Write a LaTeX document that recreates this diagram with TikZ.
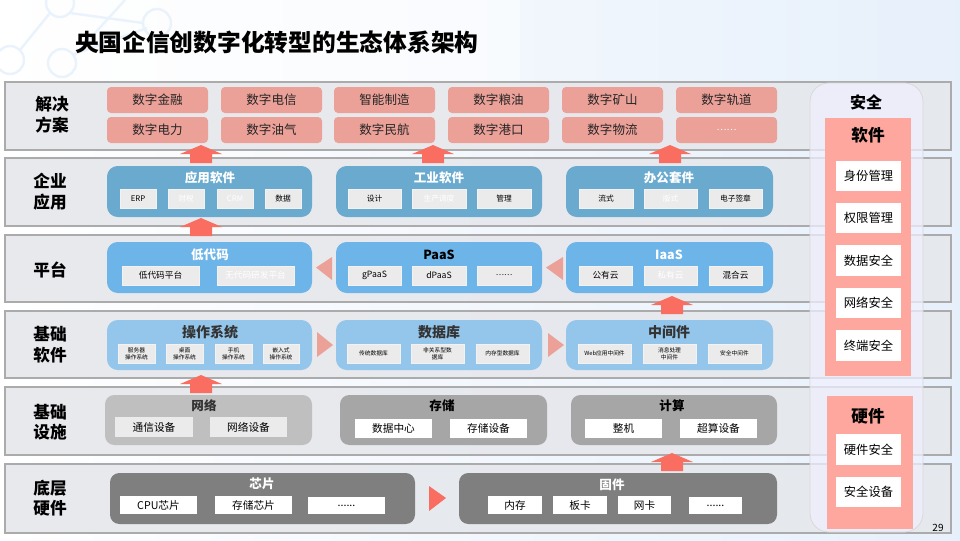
\documentclass[tikz,border=0pt]{standalone}
\usepackage{fontspec}
\setmainfont{Noto Sans CJK SC}
\usetikzlibrary{shapes.geometric}
\definecolor{rowfill}{HTML}{E5E7EB}
\definecolor{rowline}{HTML}{ABABAB}
\definecolor{solpink}{HTML}{EBA098}
\definecolor{appblue}{HTML}{6AAACF}
\definecolor{platblue}{HTML}{6DB4E8}
\definecolor{swblue}{HTML}{94C6EB}
\definecolor{itemgray}{HTML}{EBEBEB}
\definecolor{netgray}{HTML}{BFBFBF}
\definecolor{midgray}{HTML}{A6A6A6}
\definecolor{darkgray}{HTML}{7F7F7F}
\definecolor{arrred}{HTML}{F96E60}
\definecolor{tripink}{HTML}{EBA098}
\definecolor{secpink}{HTML}{FDA79F}
\definecolor{deco}{HTML}{E2EDFA}
\definecolor{decoline}{HTML}{EAF2FC}
\newcommand\bx[7]{\node[#6, minimum width={(#4-#2)*0.75pt}, minimum height={(#5-#3)*0.75pt}] (#1) at ({(#2+#4)/2},{(#3+#5)/2}) {#7};}
\newcommand\uparr[2]{\fill[arrred] (#1-11,#2+18) -- (#1-11,#2+9) -- (#1-21,#2+9) -- (#1,#2) -- (#1+21,#2+9) -- (#1+11,#2+9) -- (#1+11,#2+18) -- cycle;}
\tikzset{
  every node/.style={inner sep=0pt, outer sep=0pt, align=center},
  rowbox/.style={draw=rowline, fill=rowfill, fill opacity=0.88, line width=0.8pt},
  rowlab/.style={font=\fontsize{12.5}{15.5}\selectfont\bfseries},
  sol/.style={fill=solpink, rounded corners=3pt, font=\fontsize{9.4}{11}\selectfont, text=black!85},
  grpapp/.style={fill=appblue, rounded corners=8pt},
  grpplat/.style={fill=platblue, rounded corners=8pt},
  grpsw/.style={fill=swblue, rounded corners=8pt},
  grpnet/.style={fill=netgray, rounded corners=7pt},
  grpmid/.style={fill=midgray, rounded corners=7pt},
  grpdark/.style={fill=darkgray, rounded corners=7pt},
  gtitle/.style={font=\fontsize{9.4}{11}\selectfont\bfseries, text=white},
  gtitled/.style={font=\fontsize{10.5}{12}\selectfont\bfseries, text=black!80},
  item/.style={fill=itemgray, draw=white!90!gray, line width=0.3pt, font=\fontsize{5.8}{6.5}\selectfont, text=black},
  itemw/.style={item, text=white},
  itemtiny/.style={item, font=\fontsize{4.3}{5}\selectfont},
  itemhw/.style={fill=white, font=\fontsize{8}{9}\selectfont, text=black},
  secitem/.style={fill=white, font=\fontsize{9.2}{11}\selectfont, text=black},
}
\begin{document}
\begin{tikzpicture}[x=0.75pt,y=-0.75pt]
\useasboundingbox (0,0) rectangle (960,540);
% background
\shade[left color=white, right color=deco!85] (0,0) rectangle (960,540);
\fill[white, opacity=0.5] (0,0) rectangle (520,150);
% decorative network
\begin{scope}[draw=decoline, line width=1.8pt]
  \draw (60,3) circle (14);
  \draw (157,23) circle (14);
  \draw (10,60) circle (14);
  \draw (62,63) circle (14);
  \draw (50,13) -- (20,50);
  \draw (70,13) -- (143,23);
  \draw (72,55) -- (147,28);
  \draw (125,0) -- (75,55);
  \draw (890,355) circle (18);
  \draw (930,400) circle (14);
  \draw (903,368) -- (920,390);
\end{scope}
% title
\node[anchor=west, font=\fontsize{17.8}{20}\selectfont\bfseries] (title) at (75,42) {央国企信创数字化转型的生态体系架构};
% rows
\bx{r1}{5}{82}{951}{150}{rowbox}{}
\bx{r2}{5}{158}{951}{226}{rowbox}{}
\bx{r3}{5}{235}{951}{302}{rowbox}{}
\bx{r4}{5}{311}{951}{378}{rowbox}{}
\bx{r5}{5}{387}{951}{455}{rowbox}{}
\bx{r6}{5}{464}{951}{533}{rowbox}{}
\node[rowlab] (l1) at (52,115) {解决\\方案};
\node[rowlab] (l2) at (50,192) {企业\\应用};
\node[rowlab] (l3) at (50,270) {平台};
\node[rowlab] (l4) at (50,345) {基础\\软件};
\node[rowlab] (l5) at (50,422) {基础\\设施};
\node[rowlab] (l6) at (50,498) {底层\\硬件};
% security panel
\fill[white!94!blue, fill opacity=0.75, draw=black!15, line width=0.6pt, rounded corners=14pt] (810,83) rectangle (923,532);
\node[font=\fontsize{12}{14}\selectfont\bfseries] (sec) at (866,102) {安全};
\bx{secsw}{825}{118}{911}{376}{fill=secpink}{}
\node[font=\fontsize{12.5}{14}\selectfont\bfseries] (secswt) at (868,135) {软件};
\bx{s1}{836}{161}{901}{191}{secitem}{身份管理}
\bx{s2}{836}{203}{901}{233}{secitem}{权限管理}
\bx{s3}{836}{245}{901}{276}{secitem}{数据安全}
\bx{s4}{836}{288}{901}{318}{secitem}{网络安全}
\bx{s5}{836}{330}{901}{361}{secitem}{终端安全}
\bx{sechw}{827}{396}{913}{529}{fill=secpink}{}
\node[font=\fontsize{12.5}{14}\selectfont\bfseries] (sechwt) at (868,416) {硬件};
\bx{s6}{836}{434}{901}{465}{secitem}{硬件安全}
\bx{s7}{836}{477}{901}{507}{secitem}{安全设备}
\node[font=\fontsize{7.5}{9}\selectfont] (pg) at (938,528) {29};
% row 1 solutions
\bx{a1}{107}{87}{208}{113}{sol}{数字金融}
\bx{a2}{221}{87}{322}{113}{sol}{数字电信}
\bx{a3}{334}{87}{435}{113}{sol}{智能制造}
\bx{a4}{448}{87}{549}{113}{sol}{数字粮油}
\bx{a5}{562}{87}{663}{113}{sol}{数字矿山}
\bx{a6}{676}{87}{777}{113}{sol}{数字轨道}
\bx{b1}{107}{117}{208}{143}{sol}{数字电力}
\bx{b2}{221}{117}{322}{143}{sol}{数字油气}
\bx{b3}{334}{117}{435}{143}{sol}{数字民航}
\bx{b4}{448}{117}{549}{143}{sol}{数字港口}
\bx{b5}{562}{117}{663}{143}{sol}{数字物流}
\bx{b6}{676}{117}{777}{143}{sol, text=white, font=\fontsize{7}{8}\selectfont}{……}
% row 2 enterprise apps
\bx{g21}{107}{166}{312}{217}{grpapp}{}
\bx{g22}{336}{166}{542}{217}{grpapp}{}
\bx{g23}{566}{166}{773}{217}{grpapp}{}
\node[gtitle] (t21) at (210,178) {应用软件};
\node[gtitle] (t22) at (439,178) {工业软件};
\node[gtitle] (t23) at (669,178) {办公套件};
\bx{i211}{120}{189}{156}{208}{item}{ERP}
\bx{i212}{168}{189}{204}{208}{itemw}{财税}
\bx{i213}{217}{189}{253}{208}{itemw}{CRM}
\bx{i214}{265}{189}{301}{208}{item}{数据}
\bx{i221}{348}{189}{401}{208}{item}{设计}
\bx{i222}{412}{189}{466}{208}{itemw}{生产调度}
\bx{i223}{477}{189}{531}{208}{item}{管理}
\bx{i231}{579}{189}{633}{208}{item}{流式}
\bx{i232}{644}{189}{697}{208}{itemw}{版式}
\bx{i233}{709}{189}{762}{208}{item}{电子签章}
% row 3 platform
\bx{g31}{107}{242}{312}{293}{grpplat}{}
\bx{g32}{336}{242}{542}{293}{grpplat}{}
\bx{g33}{566}{242}{773}{293}{grpplat}{}
\node[gtitle] (t31) at (210,255) {低代码};
\node[gtitle, text=black] (t32) at (439,255) {PaaS};
\node[gtitle] (t33) at (669,255) {IaaS};
\bx{i311}{122}{266}{199}{285}{item, font=\fontsize{6.5}{7}\selectfont}{低代码平台}
\bx{i312}{217}{266}{294}{285}{itemw, font=\fontsize{6.5}{7}\selectfont}{无代码研发平台}
\bx{i321}{348}{266}{401}{285}{item, font=\fontsize{6.5}{7}\selectfont}{gPaaS}
\bx{i322}{412}{266}{466}{285}{item, font=\fontsize{6.5}{7}\selectfont}{dPaaS}
\bx{i323}{477}{266}{531}{285}{item}{……}
\bx{i331}{579}{266}{632}{285}{item, font=\fontsize{6.5}{7}\selectfont}{公有云}
\bx{i332}{644}{266}{697}{285}{itemw, font=\fontsize{6.5}{7}\selectfont}{私有云}
\bx{i333}{709}{266}{762}{285}{item, font=\fontsize{6.5}{7}\selectfont}{混合云}
\fill[tripink] (g31.east) ++(4,0) -- (332,257) -- (332,280) -- cycle;
\fill[tripink] (g32.east) ++(4,0) -- (563,257) -- (563,280) -- cycle;
% row 4 base software
\bx{g41}{107}{320}{312}{370}{grpsw}{}
\bx{g42}{336}{320}{542}{370}{grpsw}{}
\bx{g43}{566}{320}{773}{370}{grpsw}{}
\node[gtitled] (t41) at (210,332) {操作系统};
\node[gtitled] (t42) at (439,332) {数据库};
\node[gtitled] (t43) at (669,332) {中间件};
\bx{i411}{118}{344}{155}{363}{itemtiny}{服务器\\操作系统}
\bx{i412}{166}{344}{203}{363}{itemtiny}{桌面\\操作系统}
\bx{i413}{215}{344}{252}{363}{itemtiny}{手机\\操作系统}
\bx{i414}{263}{344}{299}{363}{itemtiny}{嵌入式\\操作系统}
\bx{i421}{347}{344}{400}{363}{itemtiny}{传统数据库}
\bx{i422}{411}{344}{464}{363}{itemtiny}{非关系型数\\据库}
\bx{i423}{476}{344}{529}{363}{itemtiny}{内存型数据库}
\bx{i431}{578}{344}{631}{363}{itemtiny}{Web应用中间件}
\bx{i432}{643}{344}{696}{363}{itemtiny}{消息处理\\中间件}
\bx{i433}{708}{344}{761}{363}{itemtiny}{安全中间件}
\fill[tripink] (317,332) -- (333,345) -- (317,357) -- cycle;
\fill[tripink] (548,333) -- (564,345) -- (548,357) -- cycle;
% row 5 infrastructure
\bx{g51}{105}{395}{312}{445}{grpnet}{}
\bx{g52}{340}{395}{547}{445}{grpmid}{}
\bx{g53}{571}{395}{777}{445}{grpmid}{}
\node[gtitled, font=\fontsize{9.4}{11}\selectfont\bfseries] (t51) at (204,406) {网络};
\node[gtitled, font=\fontsize{9.4}{11}\selectfont\bfseries, text=black] (t52) at (442,406) {存储};
\node[gtitled, font=\fontsize{9.4}{11}\selectfont\bfseries, text=black] (t53) at (672,406) {计算};
\bx{i511}{115}{417}{193}{437}{itemhw, fill=itemgray}{通信设备}
\bx{i512}{210}{417}{287}{437}{itemhw, fill=itemgray}{网络设备}
\bx{i521}{355}{419}{432}{438}{itemhw}{数据中心}
\bx{i522}{450}{419}{527}{438}{itemhw}{存储设备}
\bx{i531}{585}{419}{662}{438}{itemhw}{整机}
\bx{i532}{680}{419}{757}{438}{itemhw}{超算设备}
% row 6 hardware
\bx{g61}{110}{473}{415}{524}{grpdark}{}
\bx{g62}{459}{473}{777}{524}{grpdark}{}
\node[gtitle] (t61) at (262,484) {芯片};
\node[gtitle] (t62) at (612,485) {固件};
\bx{i611}{120}{496}{197}{514}{itemhw}{CPU芯片}
\bx{i612}{215}{496}{292}{514}{itemhw}{存储芯片}
\bx{i613}{308}{497}{385}{514}{itemhw}{......}
\bx{i621}{488}{496}{542}{514}{itemhw}{内存}
\bx{i622}{553}{496}{607}{514}{itemhw}{板卡}
\bx{i623}{618}{496}{671}{514}{itemhw}{网卡}
\bx{i624}{689}{497}{742}{514}{itemhw}{......}
\fill[arrred] (429,486) -- (446,498) -- (429,511) -- cycle;
% up arrows
\uparr{201}{145}
\uparr{433}{145}
\uparr{670}{145}
\uparr{201}{218}
\uparr{672}{296}
\uparr{201}{375}
\uparr{672}{453}
\end{tikzpicture}
\end{document}
